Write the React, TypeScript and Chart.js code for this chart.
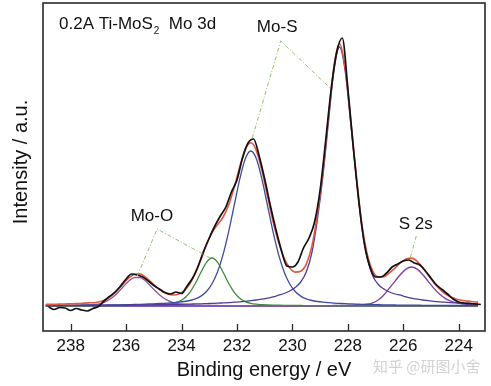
import { useEffect, useRef } from "react";
import { Chart, registerables } from "chart.js";

Chart.register(...registerables);

// Fit grid (binding energy, eV)
const fitEnergy = [
  238.9, 238.7, 238.5, 238.3, 238.1, 237.9, 237.7, 237.5, 237.3, 237.1,
  236.9, 236.7, 236.5, 236.3, 236.1, 235.9, 235.7, 235.5, 235.3, 235.1,
  234.9, 234.7, 234.5, 234.3, 234.1, 233.9, 233.7, 233.5, 233.3, 233.1,
  232.9, 232.7, 232.5, 232.3, 232.1, 231.9, 231.7, 231.5, 231.3, 231.1,
  230.9, 230.7, 230.5, 230.3, 230.1, 229.9, 229.7, 229.5, 229.3, 229.1,
  228.9, 228.7, 228.5, 228.3, 228.1, 227.9, 227.7, 227.5, 227.3, 227.1,
  226.9, 226.7, 226.5, 226.3, 226.1, 225.9, 225.7, 225.5, 225.3, 225.1,
  224.9, 224.7, 224.5, 224.3, 224.1, 223.9, 223.7, 223.5, 223.3,
];

// Mo-S Mo 3d5/2 (228.3 eV)
const moS52 = [
  0.5, 0.5, 0.5, 0.6, 0.6, 0.6, 0.6, 0.7, 0.7, 0.7,
  0.8, 0.8, 0.8, 0.9, 0.9, 1.0, 1.0, 1.1, 1.1, 1.2,
  1.3, 1.4, 1.5, 1.6, 1.7, 1.8, 1.9, 2.1, 2.2, 2.4,
  2.6, 2.8, 3.1, 3.4, 3.8, 4.2, 4.7, 5.3, 6.0, 6.8,
  7.9, 9.1, 10.8, 12.5, 15, 18.5, 24, 34, 53, 86.2,
  129.5, 183.7, 235.8, 259, 235.8, 183.7, 129.5, 80, 48, 30,
  21.5, 17, 14, 12, 10.8, 9.1, 7.9, 6.8, 6.0, 5.3,
  4.7, 4.2, 3.8, 3.4, 3.1, 2.8, 2.6, 2.4, 2.2,
];

// Mo-S Mo 3d3/2 (231.5 eV)
const moS32 = [
  0.5, 0.5, 0.6, 0.6, 0.6, 0.7, 0.7, 0.8, 0.8, 0.9,
  0.9, 1.0, 1.1, 1.2, 1.3, 1.4, 1.5, 1.7, 1.9, 2.1,
  2.3, 2.6, 2.9, 3.3, 3.8, 4.5, 5.5, 7.1, 9.9, 14.5,
  22.2, 34.3, 51.7, 74.4, 100.7, 126.9, 147.2, 155, 147.2, 126.9,
  100.7, 74.4, 51.7, 34.3, 22.2, 14.5, 9.9, 7.1, 5.5, 4.5,
  3.8, 3.3, 2.9, 2.6, 2.3, 2.1, 1.9, 1.7, 1.5, 1.4,
  1.3, 1.2, 1.1, 1.0, 0.9, 0.9, 0.8, 0.8, 0.7, 0.7,
  0.6, 0.6, 0.6, 0.5, 0.5, 0.5, 0.5, 0.4, 0.4,
];

// Mo-O (232.9 eV)
const moO52 = [
  0.1, 0.1, 0.1, 0.2, 0.2, 0.2, 0.2, 0.2, 0.2, 0.3,
  0.3, 0.3, 0.4, 0.4, 0.5, 0.5, 0.6, 0.7, 0.8, 0.9,
  1.1, 1.4, 1.8, 2.6, 4.3, 7.7, 13.7, 22.7, 33.7, 43.7,
  48, 43.7, 33.7, 22.7, 13.7, 7.7, 4.3, 2.6, 1.8, 1.4,
  1.1, 0.9, 0.8, 0.7, 0.6, 0.5, 0.5, 0.4, 0.4, 0.3,
  0.3, 0.3, 0.3, 0.2, 0.2, 0.2, 0.2, 0.2, 0.2, 0.2,
  0.2, 0.1, 0.1, 0.1, 0.1, 0.1, 0.1, 0.1, 0.1, 0.1,
  0.1, 0.1, 0.1, 0.1, 0.1, 0.1, 0.1, 0.1, 0.1,
];

// Mo-O (235.6 eV)
const moO32 = [
  0.4, 0.4, 0.5, 0.5, 0.6, 0.7, 0.8, 1.1, 1.4, 1.5,
  2.6, 4.8, 8.4, 13.3, 19.5, 25.0, 28.5, 28.5, 25.0, 19.5,
  13.8, 9.1, 5.6, 3.4, 2.1, 1.4, 1.1, 0.8, 0.7, 0.6,
  0.5, 0.5, 0.4, 0.4, 0.3, 0.3, 0.3, 0.2, 0.2, 0.2,
  0.2, 0.2, 0.2, 0.2, 0.2, 0.2, 0.2, 0.1, 0.1, 0.1,
  0.1, 0.1, 0.1, 0.1, 0.1, 0.1, 0.1, 0.1, 0.1, 0.1,
  0.1, 0.1, 0.1, 0.1, 0.1, 0.1, 0.1, 0.1, 0.1, 0.1,
  0.1, 0.1, 0.1, 0.1, 0.1, 0.1, 0.1, 0.1, 0.1,
];

// S 2s (225.7 eV)
const s2s = [
  0.1, 0.1, 0.1, 0.1, 0.1, 0.1, 0.1, 0.1, 0.1, 0.1,
  0.1, 0.1, 0.1, 0.1, 0.1, 0.1, 0.1, 0.1, 0.1, 0.1,
  0.1, 0.1, 0.1, 0.1, 0.1, 0.1, 0.1, 0.1, 0.1, 0.1,
  0.1, 0.1, 0.1, 0.1, 0.1, 0.1, 0.1, 0.1, 0.1, 0.1,
  0.2, 0.2, 0.2, 0.2, 0.2, 0.2, 0.2, 0.3, 0.3, 0.3,
  0.4, 0.4, 0.5, 0.5, 0.6, 0.8, 1.0, 1.3, 1.9, 3.2,
  6, 11, 17.9, 24.7, 31.5, 36.9, 39, 36.9, 31.5, 24.7,
  17.9, 12.2, 7.9, 5.1, 3.3, 2.2, 1.6, 1.3, 1.1,
];

// Fit envelope
const envelope = [
  1.6, 1.6, 1.8, 2.0, 2.1, 2.3, 2.4, 2.9, 3.2, 3.5,
  4.7, 7.0, 10.8, 15.9, 22.3, 28.0, 31.7, 32.1, 28.9, 23.8,
  18.6, 14.6, 11.9, 11.0, 12.0, 15.5, 22.3, 32.8, 46.6, 61.3,
  73.4, 81.4, 89.0, 101.0, 118.6, 139.2, 156.6, 163.2, 155.3, 135.4,
  110.1, 84.8, 63.7, 47.9, 38.2, 33.9, 34.8, 41.9, 59.3, 91.4,
  134.1, 187.8, 239.6, 262.4, 239.0, 186.9, 132.7, 83.3, 51.7, 34.9,
  29.1, 29.4, 33.2, 37.9, 43.4, 47.1, 47.9, 44.7, 38.4, 30.9,
  23.4, 17.2, 12.5, 9.2, 7.1, 5.7, 4.9, 4.3, 3.9,
];

// Measured spectrum
const rawEnergy = [
  238.8, 238.6, 238.4, 238.2, 238.0, 237.8, 237.6, 237.4, 237.2, 237.0,
  236.8, 236.6, 236.4, 236.2, 236.0, 235.8, 235.6, 235.4, 235.2, 235.0,
  234.8, 234.6, 234.4, 234.2, 234.0, 233.8, 233.6, 233.4, 233.2, 233.0,
  232.8, 232.6, 232.4, 232.2, 232.0, 231.8, 231.6, 231.4, 231.2, 231.0,
  230.8, 230.6, 230.4, 230.2, 230.0, 229.8, 229.6, 229.4, 229.2, 229.0,
  228.8, 228.6, 228.4, 228.2, 228.0, 227.8, 227.6, 227.4, 227.2, 227.0,
  226.8, 226.6, 226.4, 226.2, 226.0, 225.8, 225.6, 225.4, 225.2, 225.0,
  224.8, 224.6, 224.4, 224.2, 224.0, 223.8, 223.6, 223.4, 223.2,
];
const rawCounts = [
  -1, -3.5, -1.5, -2, -4.5, -2.5, -4, -5, -2.5, -0.5,
  5, 9.5, 14, 20, 27, 32, 31, 29, 25, 20.5,
  17, 13.5, 12, 14, 12.5, 20, 28, 40, 55, 68,
  80, 90, 99, 114, 126, 148, 163, 167, 150, 127,
  101, 77, 56, 40, 39, 44, 58, 68, 84, 116,
  165, 217, 254, 268, 218, 158, 104, 62, 39, 29,
  29, 33, 39, 42, 45, 46, 43, 41, 35, 28,
  21, 16.5, 12, 7, 4, 3, 2.5, 2, 1.5,
];

const baselineEnergy = [238.9, 223.3];
const baselineValue = [0, 0];

const xTicks = [238, 236, 234, 232, 230, 228, 226, 224];

const FONT = '"Liberation Sans", Arial, Helvetica, sans-serif';

const peakLabels = [
  { text: "Mo-S", e: 230.55, v: 279 },
  { text: "Mo-O", e: 235.07, v: 90 },
  { text: "S 2s", e: 225.55, v: 82 },
];
const leaders = [
  [[231.45, 168], [230.42, 265], [228.64, 218]],
  [[235.6, 30], [234.88, 77], [232.97, 48]],
  [[225.53, 70], [225.75, 48]],
];

function pts(xs: number[], ys: number[]) {
  return xs.map((x, i) => ({ x, y: ys[i] }));
}

export default function App() {
  const ref = useRef<HTMLCanvasElement>(null);

  useEffect(() => {
    document.body.style.margin = "0";
    const canvas = ref.current!;

    const decor = {
      id: "decor",
      afterDraw(chart: any) {
        const { ctx, chartArea } = chart;
        const { left, right, top, bottom } = chartArea;
        const xs = chart.scales.x;
        const ys = chart.scales.y;
        ctx.save();

        // leader lines
        ctx.strokeStyle = "#8cc46a";
        ctx.lineWidth = 1;
        ctx.setLineDash([4, 2, 1, 2]);
        for (const seg of leaders) {
          ctx.beginPath();
          seg.forEach(([e, v], i) => {
            const px = xs.getPixelForValue(e);
            const py = ys.getPixelForValue(v);
            if (i === 0) ctx.moveTo(px, py);
            else ctx.lineTo(px, py);
          });
          ctx.stroke();
        }
        ctx.setLineDash([]);

        // frame
        ctx.strokeStyle = "#2a2a2a";
        ctx.lineWidth = 1.6;
        ctx.strokeRect(left, top, right - left, bottom - top);

        // inward ticks
        ctx.lineWidth = 1.3;
        for (const v of xTicks) {
          const px = Math.round(xs.getPixelForValue(v)) + 0.5;
          ctx.beginPath();
          ctx.moveTo(px, bottom);
          ctx.lineTo(px, bottom - 7);
          ctx.stroke();
        }

        // y-axis title
        ctx.fillStyle = "#111";
        ctx.font = `20px ${FONT}`;
        ctx.textAlign = "center";
        ctx.textBaseline = "middle";
        ctx.save();
        ctx.translate(21, (top + bottom) / 2 - 5);
        ctx.rotate(-Math.PI / 2);
        ctx.fillText("Intensity / a.u.", 0, 0);
        ctx.restore();

        // peak labels
        ctx.font = `17px ${FONT}`;
        for (const l of peakLabels) {
          ctx.fillText(l.text, xs.getPixelForValue(l.e), ys.getPixelForValue(l.v));
        }

        // sample title with subscript
        ctx.textAlign = "left";
        ctx.textBaseline = "alphabetic";
        let tx = left + 16;
        const ty = top + 26;
        ctx.font = `17px ${FONT}`;
        const a = "0.2A Ti-MoS";
        ctx.fillText(a, tx, ty);
        tx += ctx.measureText(a).width + 1;
        ctx.font = `10px ${FONT}`;
        ctx.fillText("2", tx, ty + 5);
        tx += ctx.measureText("2").width;
        ctx.font = `17px ${FONT}`;
        ctx.fillText("  Mo 3d", tx, ty);

        // watermark
        ctx.font = `15px "Noto Sans CJK SC", sans-serif`;
        ctx.fillStyle = "#d2d2d2";
        ctx.textBaseline = "middle";
        ctx.fillText("知乎 @研图小舍", 373, 366);

        ctx.restore();
      },
    };

    const line = (label: string, data: any[], color: string, width: number, order: number) => ({
      label,
      data,
      borderColor: color,
      backgroundColor: color,
      borderWidth: width,
      pointRadius: 0,
      fill: false,
      cubicInterpolationMode: "monotone" as const,
      order,
    });

    const chart = new Chart(canvas, {
      type: "line",
      data: {
        datasets: [
          line("measured", pts(rawEnergy, rawCounts), "#111111", 1.7, 0),
          line("envelope", pts(fitEnergy, envelope), "#e4573d", 1.6, 1),
          line("Mo-S 3d5/2", pts(fitEnergy, moS52), "#4d3d98", 1.3, 2),
          line("Mo-S 3d3/2", pts(fitEnergy, moS32), "#3f4a9e", 1.3, 3),
          line("Mo-O 3d5/2", pts(fitEnergy, moO52), "#3d8a3a", 1.3, 4),
          line("Mo-O 3d3/2", pts(fitEnergy, moO32), "#94559f", 1.3, 5),
          line("S 2s", pts(fitEnergy, s2s), "#7a3fa6", 1.3, 6),
          line("background", pts(baselineEnergy, baselineValue), "#5b49a8", 1.4, 7),
        ],
      },
      options: {
        responsive: false,
        animation: false,
        devicePixelRatio: 1,
        layout: { padding: { left: 0, right: 6, top: 3, bottom: 0 } },
        plugins: { legend: { display: false }, tooltip: { enabled: false } },
        scales: {
          x: {
            type: "linear",
            reverse: true,
            min: 223.05,
            max: 239,
            afterBuildTicks: (s: any) => {
              s.ticks = xTicks.map((v) => ({ value: v }));
            },
            afterFit: (s: any) => {
              s.height = 55;
            },
            grid: { display: false, drawTicks: false },
            border: { display: false },
            ticks: {
              font: { family: FONT, size: 17 },
              color: "#111",
              padding: 5,
              maxRotation: 0,
              autoSkip: false,
              callback: (v: any) => String(v),
            },
            title: {
              display: true,
              text: "Binding energy / eV",
              font: { family: FONT, size: 20 },
              color: "#111",
              padding: { top: 0, bottom: 4 },
            },
          },
          y: {
            min: -25,
            max: 303,
            afterFit: (s: any) => {
              s.width = 43;
            },
            grid: { display: false, drawTicks: false },
            border: { display: false },
            ticks: { display: false },
            title: { display: false },
          },
        },
      },
      plugins: [decor],
    });

    return () => chart.destroy();
  }, []);

  return (
    <div style={{ width: 491, height: 386 }}>
      <canvas ref={ref} width={491} height={386} style={{ display: "block" }} />
    </div>
  );
}
